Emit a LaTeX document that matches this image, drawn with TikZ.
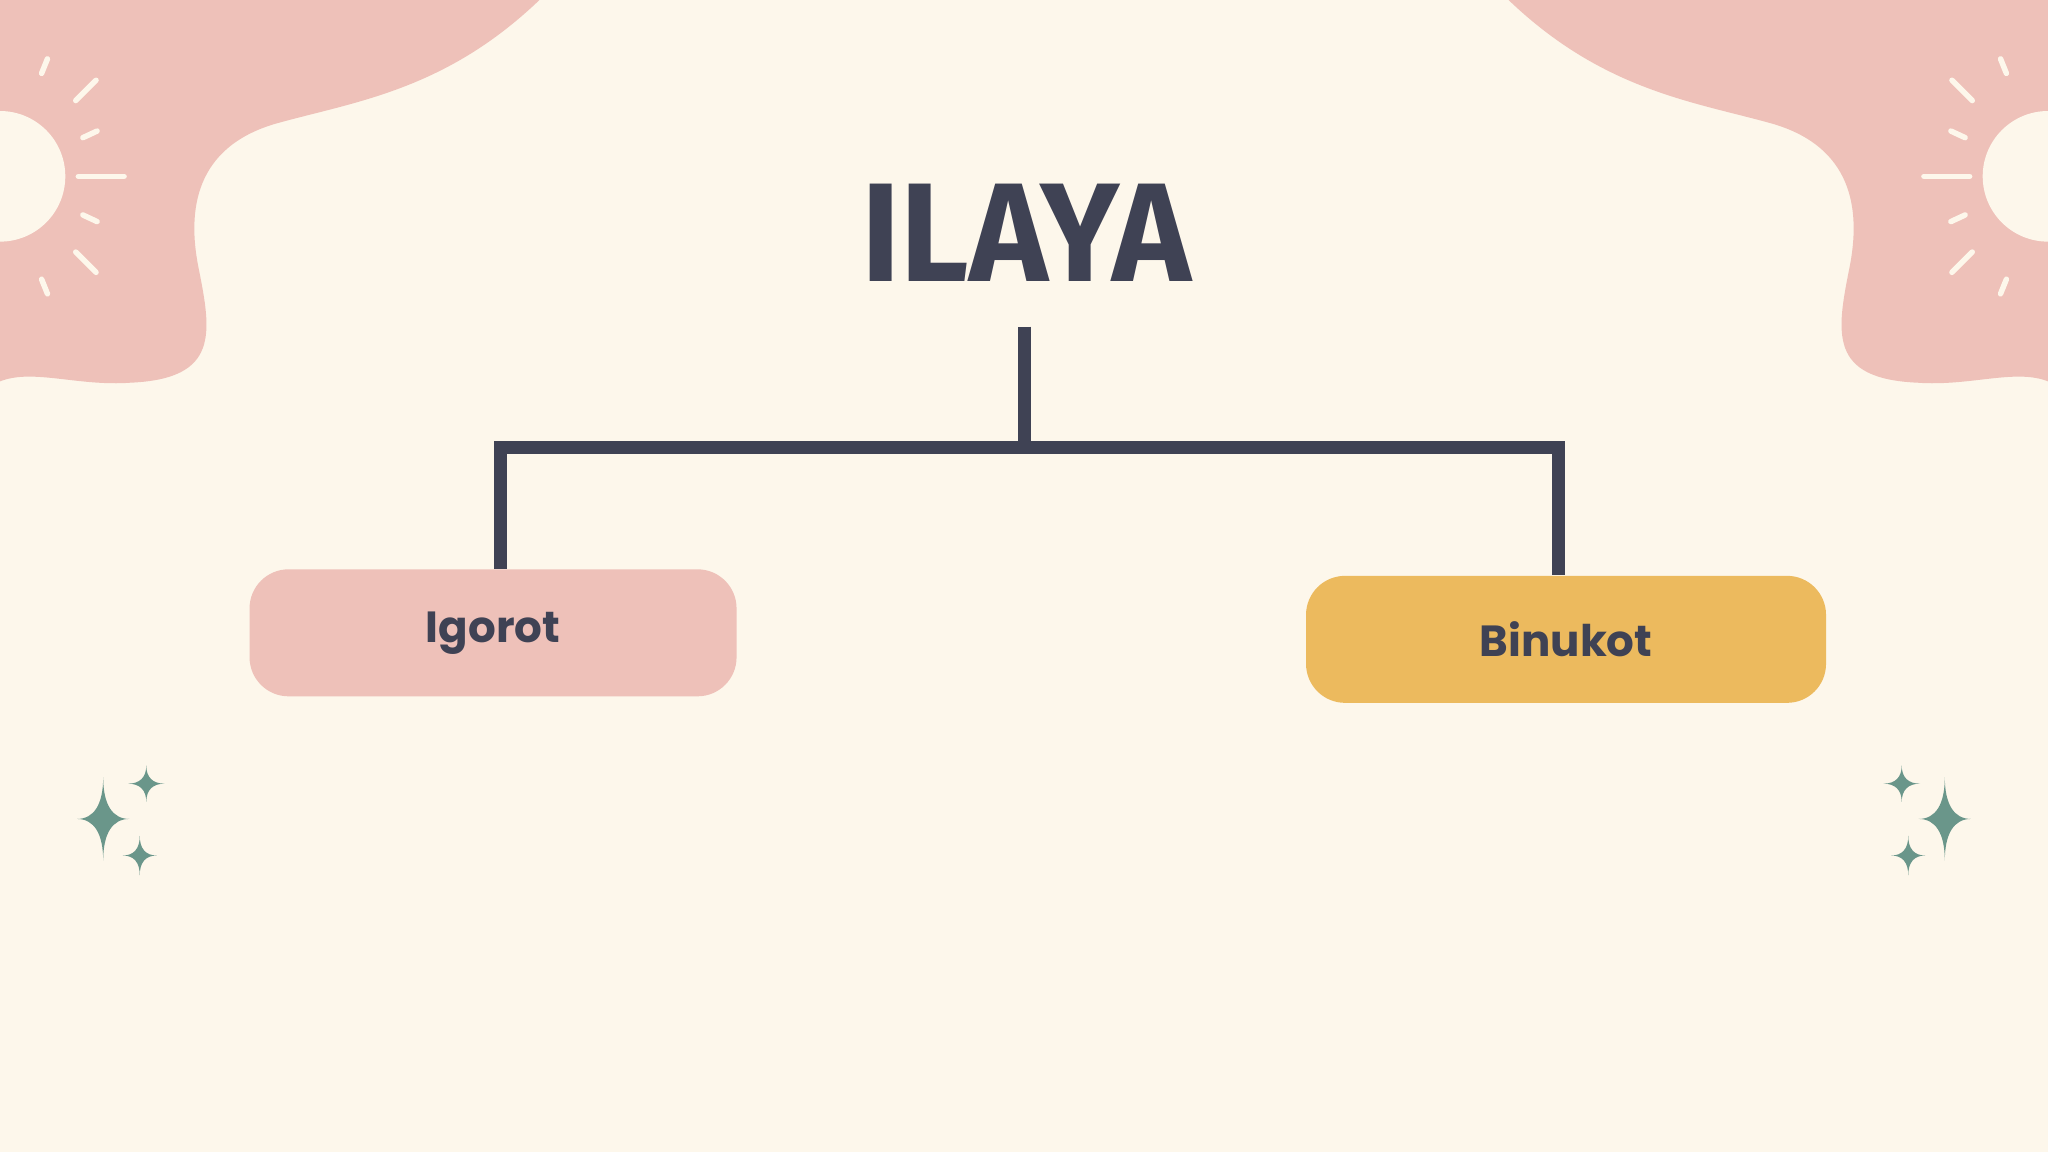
\documentclass[tikz,border=0pt]{standalone}
\usepackage{fontspec}
\usepackage{graphicx}
\setmainfont{Poppins}
\newfontfamily\titlefont{Fira Sans}
\definecolor{bgc}{HTML}{FDF7EB}
\definecolor{pinkc}{HTML}{EEC1B9}
\definecolor{darkc}{HTML}{3F4254}
\definecolor{yelc}{HTML}{ECBA5E}
\definecolor{tealc}{HTML}{6A968A}
\tikzset{
  conn/.style={draw=darkc,line width=0.13cm},
  leafbox/.style={rounded corners=0.39cm,minimum width=4.87cm,minimum height=1.27cm,font=\bfseries\fontsize{12.4}{15}\selectfont,text=darkc},
  ray/.style={draw=bgc,line width=0.055cm,line cap=round},
  sparkle/.style={fill=tealc}
}
\newcommand{\mystar}[4]{% cx cy half-height half-width
  \path[sparkle] (#1,#2-#3) .. controls (#1,#2-0.35*#3) and (#1+0.35*#4,#2) .. (#1+#4,#2)
   .. controls (#1+0.35*#4,#2) and (#1,#2+0.35*#3) .. (#1,#2+#3)
   .. controls (#1,#2+0.35*#3) and (#1-0.35*#4,#2) .. (#1-#4,#2)
   .. controls (#1-0.35*#4,#2) and (#1,#2-0.35*#3) .. cycle;}
\usetikzlibrary{calc}
\newcommand{\corner}{%
  \fill[pinkc] (0,0) -- (413,0) .. controls (340,70) and (270,78) .. (210,95)
    .. controls (150,113) and (143,160) .. (152,205)
    .. controls (162,255) and (168,290) .. (100,293)
    .. controls (60,296) and (25,282) .. (0,292) -- cycle;
  \fill[bgc] (0,135) circle (50);
  \foreach \a/\r/\l in {-68/85/12,-45/82/22,-25/70/12,0/60/35,25/70/12,45/82/22,68/85/12} {
    \draw[ray] ($(0,135)+(\a:\r)$) -- ($(0,135)+(\a:\r+\l)$);
  }
}
\begin{document}
\begin{tikzpicture}[x=0.013061cm,y=-0.013061cm]
\fill[bgc] (0,0) rectangle (1568,882);
\useasboundingbox (0,0) rectangle (1568,882);
\begin{scope}\corner\end{scope}
\begin{scope}[shift={(1568,0)},xscale=-1]\corner\end{scope}
\mystar{79}{627}{32}{20}
\mystar{112}{600}{14}{14}
\mystar{107}{655}{15}{13}
\mystar{1489}{627}{32}{20}
\mystar{1456}{600}{14}{14}
\mystar{1461}{655}{15}{13}
\node[text=darkc,inner sep=0] (title) at (786,178) {\scalebox{0.95}[1]{\titlefont\bfseries\fontsize{40}{46}\selectfont ILAYA}};
\node[leafbox,fill=pinkc] (ig) at (377.5,484.5) {Igorot};
\node[leafbox,fill=yelc,minimum width=5.2cm] (bi) at (1199,489.5) {Binukot};
\coordinate (top) at (784,250);
\coordinate (mid) at (784,343);
\draw[conn] (top) -- (mid);
\draw[conn] (ig.north -| 383,0) -- (383,343) -- (1193,343) -- (bi.north -| 1193,0);
\end{tikzpicture}
\end{document}
